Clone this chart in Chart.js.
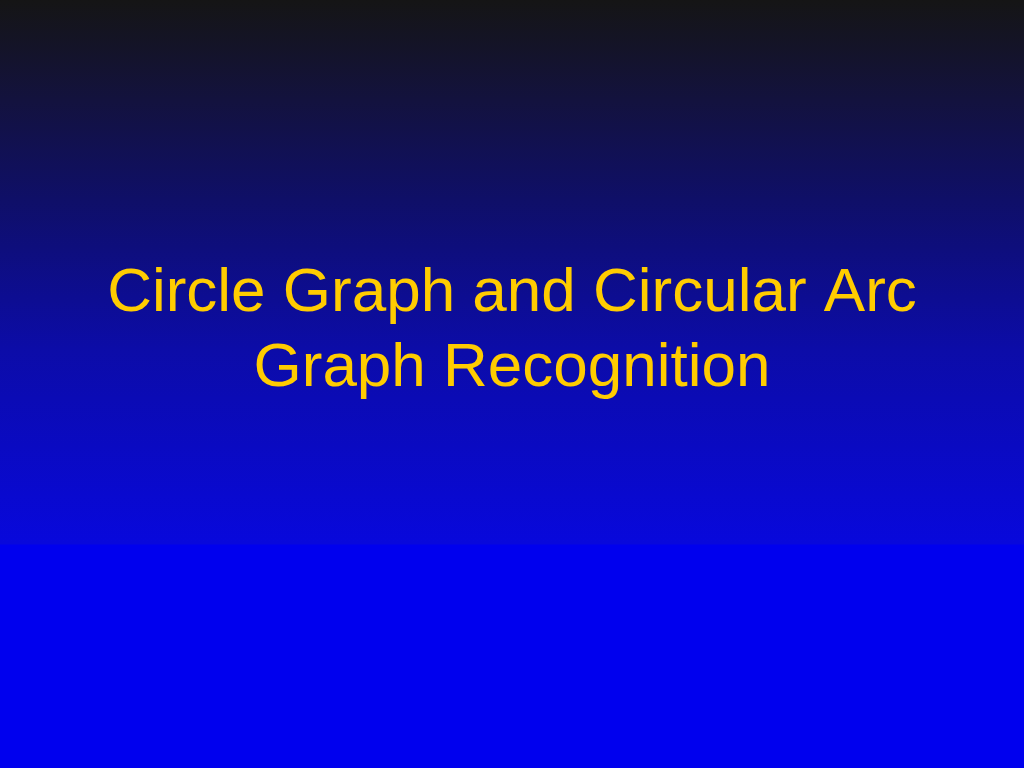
<!DOCTYPE html>
<html>
<head>
<meta charset="utf-8">
<script src="https://cdn.jsdelivr.net/npm/chart.js@4"></script>
<style>
  html, body { margin: 0; padding: 0; width: 1024px; height: 768px; overflow: hidden; }
  body {
    background: linear-gradient(to bottom,
      #151515 0px, #13123e 100px, #0f0f68 200px, #0c0ca8 350px,
      #0808dc 544px, #0000ee 545px, #0000ee 768px);
  }
  #wrap { position: absolute; left: 0; top: 0; width: 1024px; height: 768px; }
</style>
</head>
<body>
<div id="wrap"><canvas id="slide"></canvas></div>
<script>
// slide title, one entry per line
const titleLines = ['Circle Graph and Circular Arc', 'Graph Recognition'];
// no plotted series on this slide
const categories = [];
const seriesValues = [];

const ctx = document.getElementById('slide').getContext('2d');
new Chart(ctx, {
    type: 'bar',
    data: {
        labels: categories,
        datasets: [{ data: seriesValues, backgroundColor: 'transparent' }]
    },
    options: {
        responsive: true,
        maintainAspectRatio: false,
        animation: false,
        layout: { padding: { top: 256 } },
        scales: {
            x: { display: false },
            y: { display: false }
        },
        plugins: {
            legend: { display: false },
            tooltip: { enabled: false },
            title: {
                display: true,
                text: titleLines,
                color: '#ffcc00',
                font: { family: '"Liberation Sans", Arial, sans-serif', size: 62, weight: 'normal', lineHeight: 1.21 },
                padding: { top: 0, bottom: 0 }
            }
        }
    }
});
</script>
</body>
</html>
